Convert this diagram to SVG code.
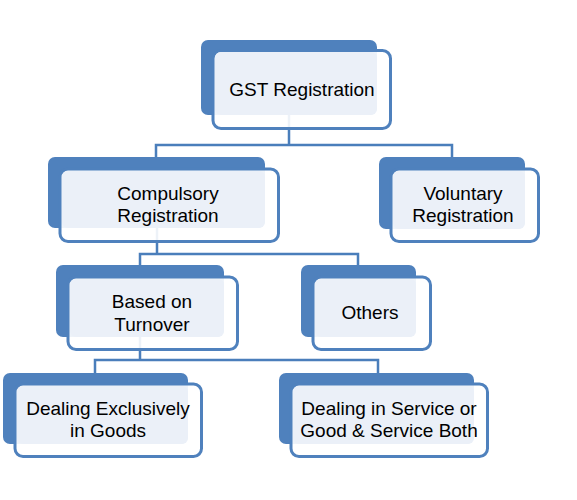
<svg xmlns="http://www.w3.org/2000/svg" width="577" height="500" viewBox="0 0 577 500">
<style>
.back{fill:#4F81BD}
.frame{fill:#fff;fill-opacity:0.9;stroke:#4F81BD;stroke-width:3}
.face{fill:#EBF0F8}
.lbl{font-family:"Liberation Sans",Arial,sans-serif;font-size:19px;fill:#000;text-anchor:middle}
.conn{fill:none;stroke:#4A7EBB;stroke-width:2.5}
</style>
<rect width="577" height="500" fill="#fff"/>
<g id="connectors">
<path class="conn" d="M289,115 V145 M156,157 V145 H452 V157"/>
<path class="conn" d="M157,228 V254 M140,265 V254 H358 V265"/>
<path class="conn" d="M140,337 V360 M95,373 V360 H378 V373"/>
</g>
<g id="gst">
<rect class="back" x="201" y="40" width="176" height="75" rx="7"/>
<rect class="frame" x="213" y="50.5" width="177.5" height="78" rx="8"/>
<rect class="face" x="215" y="52" width="162" height="63" rx="6"/>
<text class="lbl" x="302" y="96">GST Registration</text>
</g>
<g id="compulsory">
<rect class="back" x="48" y="157" width="217" height="71" rx="7"/>
<rect class="frame" x="60" y="169" width="218.5" height="72.5" rx="8"/>
<rect class="face" x="62" y="171" width="203" height="57" rx="6"/>
<text class="lbl" x="168" y="200">Compulsory</text>
<text class="lbl" x="168" y="222">Registration</text>
</g>
<g id="voluntary">
<rect class="back" x="379" y="157" width="146" height="72" rx="7"/>
<rect class="frame" x="391" y="169" width="147.5" height="72.5" rx="8"/>
<rect class="face" x="393" y="171" width="132" height="58" rx="6"/>
<text class="lbl" x="463" y="200">Voluntary</text>
<text class="lbl" x="463" y="222">Registration</text>
</g>
<g id="turnover">
<rect class="back" x="56" y="265" width="168" height="72" rx="7"/>
<rect class="frame" x="68" y="277" width="169.5" height="72.5" rx="8"/>
<rect class="face" x="70" y="279" width="154" height="58" rx="6"/>
<text class="lbl" x="152" y="308">Based on</text>
<text class="lbl" x="152" y="331">Turnover</text>
</g>
<g id="others">
<rect class="back" x="301" y="265" width="115" height="72" rx="7"/>
<rect class="frame" x="313" y="277" width="117.5" height="72.5" rx="8"/>
<rect class="face" x="315" y="279" width="101" height="58" rx="6"/>
<text class="lbl" x="370" y="319">Others</text>
</g>
<g id="goods">
<rect class="back" x="3" y="373" width="185" height="71" rx="7"/>
<rect class="frame" x="15" y="384" width="186.5" height="72.5" rx="8"/>
<rect class="face" x="17" y="386" width="171" height="58" rx="6"/>
<text class="lbl" x="108" y="415">Dealing Exclusively</text>
<text class="lbl" x="108" y="437">in Goods</text>
</g>
<g id="service">
<rect class="back" x="279" y="373" width="195" height="71" rx="7"/>
<rect class="frame" x="291" y="384" width="196.5" height="72.5" rx="8"/>
<rect class="face" x="293" y="386" width="181" height="58" rx="6"/>
<text class="lbl" x="389" y="415">Dealing in Service or</text>
<text class="lbl" x="389" y="437">Good &amp; Service Both</text>
</g>
</svg>
